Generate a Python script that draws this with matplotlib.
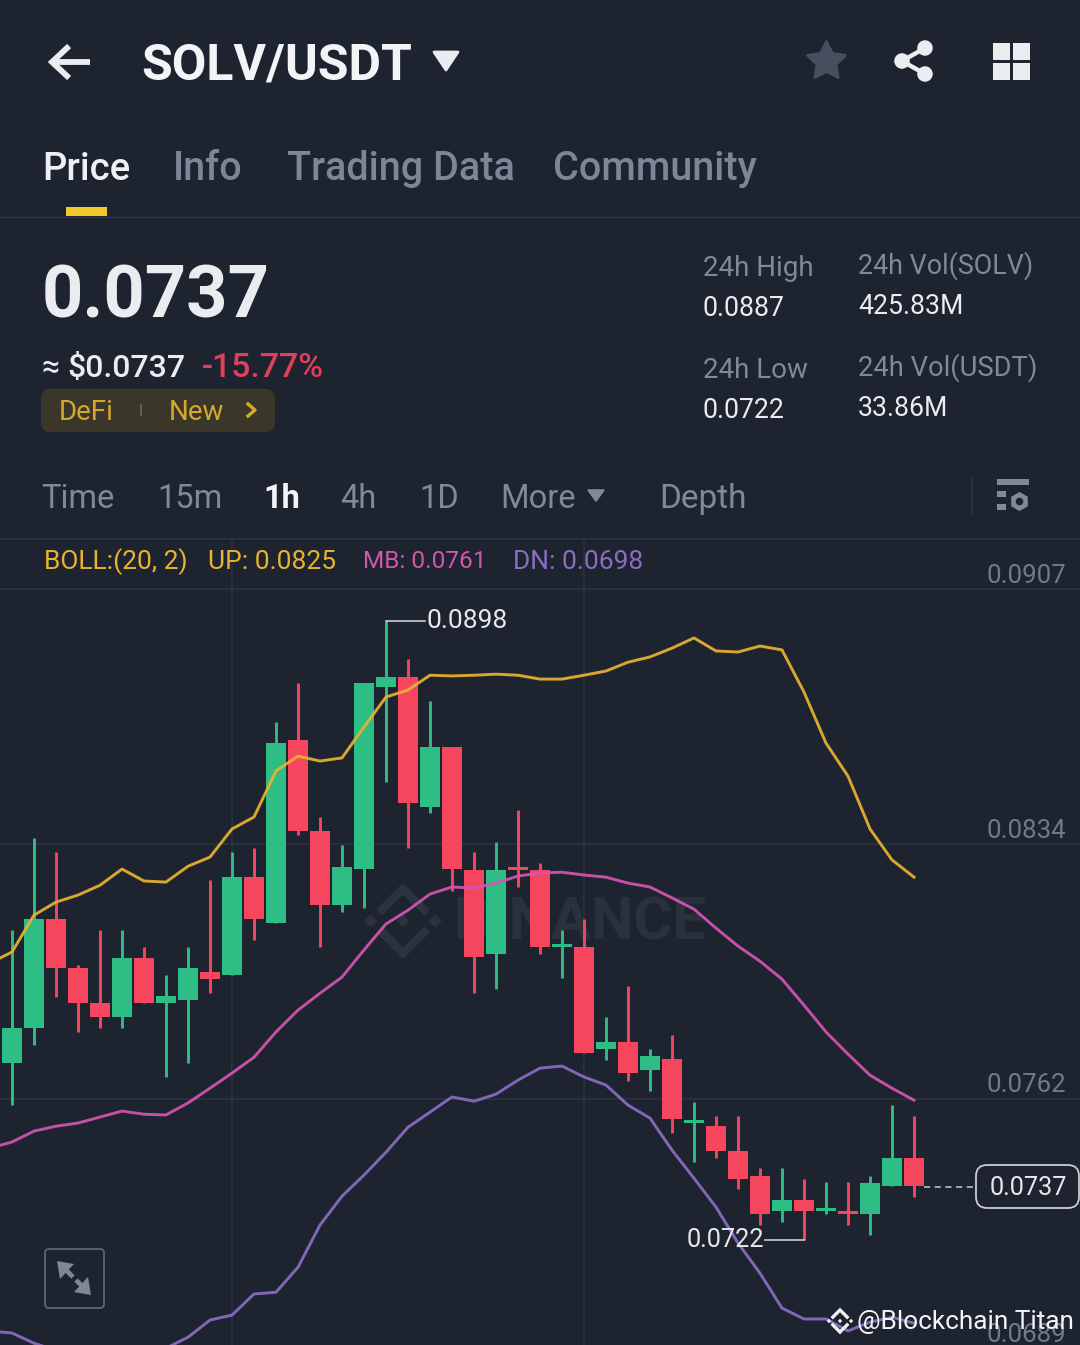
import matplotlib
matplotlib.use("Agg")
import matplotlib.pyplot as plt
from matplotlib.patches import FancyBboxPatch, Polygon, Rectangle

plt.rcParams["font.family"] = ["Roboto", "DejaVu Sans"]

# candles, oldest first, price
opens = [0.07722, 0.07822, 0.08132, 0.07993, 0.07893, 0.07853, 0.08021, 0.07893, 0.07902, 0.07981, 0.07973,
         0.08251, 0.08120, 0.08641, 0.08382, 0.08172, 0.08274, 0.08791, 0.08820, 0.08450, 0.08621, 0.08271,
         0.08032, 0.08280, 0.08271, 0.08052, 0.08052, 0.07762, 0.07782, 0.07703, 0.07734, 0.07552, 0.07543,
         0.07472, 0.07401, 0.07302, 0.07333, 0.07302, 0.07302, 0.07293, 0.07373, 0.07452]
closes = [0.07822, 0.08132, 0.07993, 0.07893, 0.07853, 0.08021, 0.07893, 0.07913, 0.07993, 0.07961, 0.08251,
          0.08132, 0.08632, 0.08382, 0.08172, 0.08280, 0.08803, 0.08820, 0.08462, 0.08621, 0.08274, 0.08024,
          0.08271, 0.08271, 0.08052, 0.08061, 0.07751, 0.07782, 0.07694, 0.07742, 0.07563, 0.07560, 0.07472,
          0.07393, 0.07293, 0.07333, 0.07302, 0.07310, 0.07293, 0.07381, 0.07452, 0.07373]
highs = [0.08101, 0.08362, 0.08322, 0.08001, 0.08101, 0.08101, 0.08052, 0.07973, 0.08052, 0.08243, 0.08322,
         0.08334, 0.08692, 0.08803, 0.08422, 0.08342, 0.08803, 0.08980, 0.08871, 0.08752, 0.08621, 0.08322,
         0.08351, 0.08442, 0.08291, 0.08101, 0.08132, 0.07853, 0.07941, 0.07762, 0.07802, 0.07612, 0.07572,
         0.07572, 0.07424, 0.07424, 0.07393, 0.07384, 0.07384, 0.07401, 0.07603, 0.07572]
lows = [0.07603, 0.07774, 0.07910, 0.07811, 0.07822, 0.07822, 0.07893, 0.07683, 0.07722, 0.07921, 0.07973,
        0.08072, 0.08120, 0.08371, 0.08052, 0.08152, 0.08163, 0.08521, 0.08334, 0.08433, 0.08211, 0.07921,
        0.07933, 0.08223, 0.08032, 0.07964, 0.07751, 0.07731, 0.07671, 0.07643, 0.07523, 0.07441, 0.07452,
        0.07364, 0.07262, 0.07270, 0.07220, 0.07293, 0.07262, 0.07233, 0.07373, 0.07341]

# bollinger bands, first value belongs to the candle just left of the screen
boll_up = [0.08007, 0.08038, 0.08143, 0.08180, 0.08200, 0.08228, 0.08274, 0.08240, 0.08237, 0.08282, 0.08308,
           0.08388, 0.08422, 0.08553, 0.08595, 0.08581, 0.08590, 0.08678, 0.08763, 0.08783, 0.08825, 0.08823,
           0.08825, 0.08828, 0.08825, 0.08814, 0.08814, 0.08825, 0.08837, 0.08862, 0.08877, 0.08902, 0.08931,
           0.08894, 0.08891, 0.08908, 0.08897, 0.08777, 0.08632, 0.08538, 0.08388, 0.08300, 0.08251]
boll_mb = [0.07481, 0.07498, 0.07529, 0.07543, 0.07552, 0.07569, 0.07586, 0.07577, 0.07575, 0.07609, 0.07651,
           0.07694, 0.07739, 0.07811, 0.07873, 0.07921, 0.07967, 0.08044, 0.08118, 0.08157, 0.08203, 0.08223,
           0.08220, 0.08234, 0.08254, 0.08263, 0.08265, 0.08257, 0.08251, 0.08234, 0.08223, 0.08192, 0.08160,
           0.08106, 0.08055, 0.08012, 0.07961, 0.07887, 0.07811, 0.07748, 0.07688, 0.07651, 0.07617]
boll_dn = [0.06961, 0.06955, 0.06926, 0.06906, 0.06904, 0.06909, 0.06898, 0.06915, 0.06912, 0.06943, 0.06992,
           0.07006, 0.07066, 0.07071, 0.07142, 0.07262, 0.07344, 0.07404, 0.07469, 0.07540, 0.07583, 0.07626,
           0.07614, 0.07634, 0.07674, 0.07708, 0.07714, 0.07683, 0.07660, 0.07603, 0.07566, 0.07475, 0.07395,
           0.07313, 0.07211, 0.07125, 0.07026, 0.06995, 0.06995, 0.06961, 0.06986, 0.07000, 0.06983]

price_ticks = [0.0907, 0.08345, 0.0762, 0.06895]
price_tick_labels = ["0.0907", "0.0834", "0.0762", "0.0689"]
last_price = 0.0737

BG = "#1e2330"
GREEN = "#2ebd85"
RED = "#f6465d"
YELLOW = "#e8b32e"
PINK = "#d355b2"
PURPLE = "#8c6dc2"
GRID = "#2d3340"
GREY = "#7f8998"
WHITE = "#eaecef"

fig = plt.figure(figsize=(10.8, 13.45), dpi=100, facecolor=BG)

# chart in price coords, ui overlay in screen pixels
chart = fig.add_axes([0, 0, 1, 1], facecolor=BG, zorder=1)
chart.set_xlim(-12 / 22, 1068 / 22)
chart.set_ylim(0.06921, 0.107445)
chart.axis("off")
ui = fig.add_axes([0, 0, 1, 1], facecolor="none", zorder=2)
ui.set_xlim(0, 1080)
ui.set_ylim(1345, 0)
ui.axis("off")


def label(x, y, s, size, color=GREY, weight="normal", ha="left", **kw):
    # roboto sits about 2px high when centred
    ui.text(x, y + 2, s, fontsize=size, color=color, fontweight=weight, ha=ha, va="center", **kw)


def logo(ax, cx, cy, r, color, lw, zorder=2):
    # binance diamond: two chevrons, two side dots and a centre dot
    ax.plot([cx - r * 0.55, cx, cx + r * 0.55], [cy - r * 0.3, cy - r * 0.85, cy - r * 0.3],
            color=color, lw=lw, solid_joinstyle="miter", transform=ui.transData, zorder=zorder)
    ax.plot([cx - r * 0.55, cx, cx + r * 0.55], [cy + r * 0.3, cy + r * 0.85, cy + r * 0.3],
            color=color, lw=lw, solid_joinstyle="miter", transform=ui.transData, zorder=zorder)
    for dx in (-r * 0.85, 0, r * 0.85):
        d = r * 0.17
        ax.add_patch(Polygon([(cx + dx - d, cy), (cx + dx, cy - d), (cx + dx + d, cy), (cx + dx, cy + d)],
                             fc=color, ec="none", transform=ui.transData, zorder=zorder))


# chart grid
for p in price_ticks:
    chart.axhline(p, color=GRID, lw=1.1, zorder=1)
chart.vlines([10, 26], 0.06921, 0.09209, color=GRID, lw=1.1, zorder=1)

# faint watermark
logo(chart, 403, 921, 38, "#2c323e", 6, zorder=1)
chart.text(580, 924, "BINANCE", transform=ui.transData, fontsize=43, fontweight="bold", color="#2a303c",
           ha="center", va="center", zorder=1)

# candles
for i in range(len(opens)):
    color = GREEN if closes[i] >= opens[i] else RED
    chart.vlines(i, lows[i], highs[i], color=color, lw=2.1, zorder=3)
    chart.bar(i, abs(closes[i] - opens[i]), bottom=min(opens[i], closes[i]), width=0.88,
              color=color, linewidth=0, zorder=3)

# bands
xs = list(range(-1, len(opens)))
chart.plot(xs, boll_up, color=YELLOW, lw=2.1, alpha=0.92, zorder=4)
chart.plot(xs, boll_mb, color=PINK, lw=2.1, alpha=0.92, zorder=4)
chart.plot(xs, boll_dn, color=PURPLE, lw=2.1, alpha=0.92, zorder=4)

# high / low markers and last price
hi = highs.index(max(highs))
lo = lows.index(min(lows))
chart.plot([hi, hi + 1.77], [highs[hi], highs[hi]], color="#c9ccd2", lw=1.2, zorder=4)
chart.plot([lo, lo - 1.77], [lows[lo], lows[lo]], color="#c9ccd2", lw=1.2, zorder=4)
chart.plot([len(opens) - 1 + 0.45, 43.7], [last_price, last_price], color="#c9ccd2", lw=1.1,
           ls=(0, (4, 3)), zorder=4)
label(427, 619, f"{max(highs):.4f}", 19, "#e6e8ec")
label(687, 1238, f"{min(lows):.4f}", 18.2, "#e6e8ec")

for p, s, y in zip(price_ticks, price_tick_labels, [574, 829, 1083, 1333]):
    label(1066, y, s, 18.6, "#717a88", ha="right")

ui.add_patch(FancyBboxPatch((976, 1165), 103, 43, boxstyle="round,pad=0,rounding_size=11",
                            fc=BG, ec="#c9ccd2", lw=1.3))
label(1028, 1186, f"{last_price:.4f}", 18.2, "#e6e8ec", ha="center")

# header
ui.plot([54, 90], [62, 62], color=WHITE, lw=4.2, solid_capstyle="butt")
ui.plot([67, 52, 67], [48, 62, 76], color=WHITE, lw=4.2, solid_joinstyle="miter")
label(141, 64, "SOLV/USDT", 36, "#f3f4f6", "bold")
ui.add_patch(Polygon([(434, 52), (458, 52), (446, 70)], fc=WHITE, ec=WHITE, lw=2, joinstyle="round"))
ui.scatter([826], [61], marker=(5, 1), s=820, color="#474f5f", linewidths=2, edgecolors="#474f5f")
ui.plot([925, 902, 925], [48, 61, 74], color=WHITE, lw=3.2)
ui.scatter([925, 902, 925], [48, 61, 74], s=[125, 125, 125], color=WHITE, linewidths=0)
for x0, y0 in [(993, 43), (1013, 43), (993, 63), (1013, 63)]:
    ui.add_patch(Rectangle((x0, y0), 17, 17, fc=WHITE, ec="none"))

# tabs
label(42, 167, "Price", 27.5, "#eef0f3", "medium")
label(173, 167, "Info", 28.5, "#7c8696", "medium")
label(287, 167, "Trading Data", 28.5, "#7c8696", "medium")
label(553, 167, "Community", 28.5, "#7c8696", "medium")
ui.plot([0, 1080], [216.5, 216.5], color=GRID, lw=1)
ui.add_patch(Rectangle((66, 207), 41, 9, fc="#f0c92d", ec="none"))

# price block
label(42, 296, "0.0737", 52, "#eaecef", "bold")
label(41, 366, "≈", 23, "#eaecef")
label(67, 366, "$0.0737", 23, "#eaecef", "medium")
label(202, 366, "-15.77%", 24.4, "#e0405a", "medium")
ui.add_patch(FancyBboxPatch((41, 389), 234, 43, boxstyle="round,pad=0,rounding_size=9", fc="#3a3629", ec="none"))
label(59, 410, "DeFi", 20, "#d6a72f")
ui.plot([141, 141], [405, 415], color="#77694a", lw=1.2)
label(169, 410, "New", 20, "#d6a72f")
ui.plot([248, 255, 248], [404, 410, 416], color="#d6a72f", lw=2.4)

# 24h stats
label(703, 266, "24h High", 20, GREY)
label(703, 307, "0.0887", 19.2, WHITE)
label(703, 368, "24h Low", 20, GREY)
label(703, 409, "0.0722", 19.2, WHITE)
label(858, 264, "24h Vol(SOLV)", 19.4, GREY)
label(858, 305, "425.83M", 19.2, WHITE)
label(858, 366, "24h Vol(USDT)", 19.7, GREY)
label(858, 407, "33.86M", 19.2, WHITE)

# interval row
label(41, 497, "Time", 23.5, GREY)
label(157, 497, "15m", 23.5, GREY)
label(263, 497, "1h", 23.5, "#f3f4f6", "bold")
label(340, 497, "4h", 23.5, GREY)
label(419, 497, "1D", 23.5, GREY)
label(500, 497, "More", 23.5, GREY)
ui.add_patch(Polygon([(588, 490), (604, 490), (596, 501)], fc=GREY, ec=GREY, lw=1.2))
label(659, 497, "Depth", 24, GREY)
ui.plot([972, 972], [478, 513], color=GRID, lw=1.4)
ui.add_patch(Rectangle((997, 479), 32, 6, fc=GREY, ec="none"))
ui.add_patch(Rectangle((997, 491), 9, 6, fc=GREY, ec="none"))
ui.add_patch(Rectangle((997, 504), 9, 6, fc=GREY, ec="none"))
ui.scatter([1019], [501], s=190, marker="h", color=GREY, linewidths=0)
ui.scatter([1019], [501], s=30, marker="o", color=BG, linewidths=0)
ui.plot([0, 1080], [539, 539], color=GRID, lw=1.2)

# indicator legend
label(44, 560, "BOLL:(20, 2)", 19, YELLOW)
label(208, 560, "UP: 0.0825", 19, YELLOW)
label(363, 560, "MB: 0.0761", 17.6, PINK)
label(513, 560, "DN: 0.0698", 19, PURPLE)

# expand button
ui.add_patch(FancyBboxPatch((45, 1249), 59, 59, boxstyle="round,pad=0,rounding_size=4",
                            fc="none", ec="#5d6573", lw=1.3))
ui.add_patch(Polygon([(57, 1261), (74, 1264), (60, 1279)], fc="#7f8794", ec="none"))
ui.add_patch(Polygon([(91, 1295), (74, 1292), (88, 1277)], fc="#7f8794", ec="none"))
ui.plot([64, 73], [1268, 1277], color="#7f8794", lw=3.4, solid_capstyle="butt")
ui.plot([76, 85], [1280, 1289], color="#7f8794", lw=3.4, solid_capstyle="butt")

# reposter tag
logo(ui, 840, 1321, 13, "#eef0f3", 2.4, zorder=5)
label(857, 1320, "@Blockchain Titan", 18.9, "#f3f4f6", zorder=5)

plt.savefig("out.png", dpi=100, facecolor=BG)
